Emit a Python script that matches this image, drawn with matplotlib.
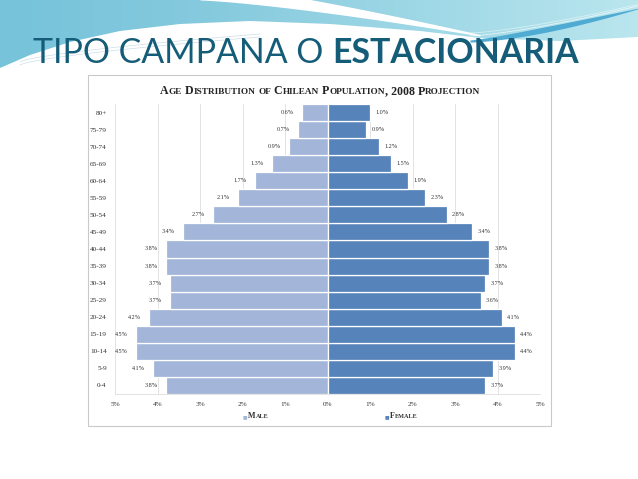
import numpy as np
import matplotlib
matplotlib.use("Agg")
import matplotlib.pyplot as plt
from matplotlib.patches import Rectangle, Polygon
from matplotlib.colors import LinearSegmentedColormap

# ---------------- data ----------------
age_groups = ["0-4", "5-9", "10-14", "15-19", "20-24", "25-29", "30-34", "35-39",
              "40-44", "45-49", "50-54", "55-59", "60-64", "65-69", "70-74", "75-79", "80+"]
male = [3.8, 4.1, 4.5, 4.5, 4.2, 3.7, 3.7, 3.8, 3.8, 3.4, 2.7, 2.1, 1.7, 1.3, 0.9, 0.7, 0.6]
female = [3.7, 3.9, 4.4, 4.4, 4.1, 3.6, 3.7, 3.8, 3.8, 3.4, 2.8, 2.3, 1.9, 1.5, 1.2, 0.9, 1.0]
x_ticks = [-5, -4, -3, -2, -1, 0, 1, 2, 3, 4, 5]
x_tick_labels = ["5%", "4%", "3%", "2%", "1%", "0%", "1%", "2%", "3%", "4%", "5%"]
slide_title_regular = "TIPO CAMPANA O "
slide_title_bold = "ESTACIONARIA"
chart_title = "Age Distribution of Chilean Population, 2008 Projection"
legend_labels = ["Male", "Female"]

W, H = 638, 479
fig = plt.figure(figsize=(W / 100, H / 100), dpi=100)
fig.patch.set_facecolor("white")

# ---------------- slide decoration ----------------
bg = fig.add_axes([0, 0, 1, 1], zorder=0)
bg.set_xlim(0, W)
bg.set_ylim(H, 0)
bg.axis("off")

xs = np.linspace(0, W, 300)
lx = [0, 30, 70, 120, 180, 250, 330, 420, 480, 560, 638]
ly = [68, 55, 42, 31, 24, 21, 24, 31, 38, 41, 37]
low = np.interp(xs, lx, ly)
verts = [(0, -1)] + list(zip(xs, low)) + [(W, -1)]
poly = Polygon(verts, closed=True, facecolor="none", edgecolor="none")
bg.add_patch(poly)
cmap = LinearSegmentedColormap.from_list("sw", ["#76c3da", "#86cade", "#9fd8e6", "#bae6ee"])
grad = np.tile(np.linspace(0, 1, 256), (40, 1))
im = bg.imshow(grad, extent=[0, W, 90, -1], cmap=cmap, aspect="auto", zorder=1)
im.set_clip_path(poly)

# white top band (emerges smoothly from the top edge)
bx = np.linspace(200, 480, 200)
t = (bx - 200) / 280.0
yb = 36 * t ** 1.3
thick = 16 * (1 - t) + 1.5
bg.fill_between(bx, yb - thick, yb, color="white", zorder=2, lw=0)

# blue swoosh at right
sx = np.linspace(470, 640, 150)
ts = (sx - 470) / 170.0
sy = 41 - 33 * ts ** 1.3
sth = 5 * np.sin(np.pi * np.clip(ts * 0.9 + 0.1, 0, 1)) + 0.5
bg.fill_between(sx, sy - sth / 2, sy + sth / 2, color="#4fabd2", zorder=3, lw=0)
for off, a in [(-5, 0.7), (-8, 0.5)]:
    bg.plot(sx, sy + off * (1 - ts * 0.5), color="white", lw=0.6, alpha=a, zorder=3)
# faint lines near title
fx = np.linspace(20, 260, 60)
for off in [0, 3]:
    bg.plot(fx, 62 - 28 * ((fx - 20) / 240) ** 0.7 + off, color="#a9c9d6", lw=0.5, alpha=0.6, zorder=2)

# slide title
title_color = "#145c77"
fs_title = 24.4
t1 = fig.text(33 / W, 1 - 63 / H, slide_title_regular, fontsize=fs_title, color=title_color,
              family="Lato", va="baseline", ha="left")
fig.canvas.draw()
r = fig.canvas.get_renderer()
w1 = t1.get_window_extent(r).width
fig.text((33 + w1) / W, 1 - 63 / H, slide_title_bold, fontsize=fs_title, color=title_color,
         family="Lato", weight="bold", va="baseline", ha="left")

# chart frame
bg.add_patch(Rectangle((88, 75), 463, 351, facecolor="white", edgecolor="#c9c9c9", lw=0.8, zorder=4))


def small_caps(x_px, y_px, text, size, ha="center", color="#222222", weight="bold"):
    """Draw text in small caps, x_px/y_px in pixel coordinates (top-left origin)."""
    runs = []
    cur = ""
    cur_up = None
    for ch in text:
        up = not ch.islower()
        if cur_up is None or up == cur_up:
            cur += ch
        else:
            runs.append((cur, cur_up))
            cur = ch
        cur_up = up
    if cur:
        runs.append((cur, cur_up))
    objs = []
    renderer = fig.canvas.get_renderer()
    widths = []
    for s, up in runs:
        o = fig.text(0, 0, s.upper(), fontsize=size if up else size * 0.78, family="Liberation Serif",
                     weight=weight, color=color, va="baseline", ha="left", zorder=10)
        objs.append(o)
    fig.canvas.draw()
    for o in objs:
        widths.append(o.get_window_extent(renderer).width)
    total = sum(widths)
    start = x_px - total / 2 if ha == "center" else x_px
    pos = start
    for o, wd in zip(objs, widths):
        o.set_position((pos / W, 1 - y_px / H))
        pos += wd
    return start, total


small_caps(320, 94, chart_title, 8.6)

# ---------------- chart ----------------
left_px, right_px = 115, 540
top_px, bot_px = 104, 394
ax = fig.add_axes([left_px / W, 1 - bot_px / H, (right_px - left_px) / W, (bot_px - top_px) / H], zorder=5)
ax.patch.set_alpha(0)

male_color = "#a3b6d9"
female_color = "#5683b9"
y = np.arange(len(age_groups))
ax.barh(y, [-v for v in male], height=1.0, color=male_color, edgecolor="white", lw=0.9, zorder=3)
ax.barh(y, female, height=1.0, color=female_color, edgecolor="white", lw=0.9, zorder=3)

ax.set_xlim(-5, 5)
ax.set_ylim(-0.5, len(age_groups) - 0.5)
ax.set_xticks(x_ticks)
ax.set_xticklabels(x_tick_labels, family="Liberation Serif", fontsize=5.2, color="#333333")
ax.set_yticks(y)
ax.set_yticklabels(age_groups, family="Liberation Serif", fontsize=5.2, color="#333333")
ax.tick_params(length=0, pad=6)
ax.grid(axis="x", color="#e3e3e3", lw=0.7, zorder=0)
for s in ["top", "right", "left"]:
    ax.spines[s].set_visible(False)
ax.spines["bottom"].set_color("#e3e3e3")
ax.spines["bottom"].set_linewidth(0.7)

for i, (m, f) in enumerate(zip(male, female)):
    ax.annotate(f"{m:.1f}%", (-m, i), xytext=(-6, 0), textcoords="offset points", ha="right",
                va="center", fontsize=4.4, family="Liberation Serif", color="#333333")
    ax.annotate(f"{f:.1f}%", (f, i), xytext=(4, 0), textcoords="offset points", ha="left",
                va="center", fontsize=4.4, family="Liberation Serif", color="#333333")

# legend
fig.text(245 / W, 1 - 418 / H, "\u25a0", fontsize=3.5, color=male_color, va="baseline", ha="center")
small_caps(248, 418, legend_labels[0], 5.8, ha="left", color="#333333")
fig.text(387 / W, 1 - 418 / H, "\u25a0", fontsize=3.5, color=female_color, va="baseline", ha="center")
small_caps(390, 418, legend_labels[1], 5.8, ha="left", color="#333333")

fig.savefig("out.png", dpi=100, facecolor="white")
